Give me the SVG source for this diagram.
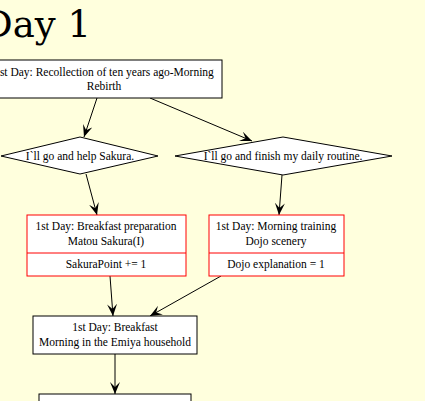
<svg xmlns="http://www.w3.org/2000/svg" width="425" height="401" viewBox="0 0 425 401">
<style>
text{font-family:"Liberation Serif","Times New Roman",serif;font-size:11.5px;fill:#000;text-anchor:middle}
.title{font-family:"DejaVu Serif",serif;font-size:37px;text-anchor:start}
.n{fill:#fff;stroke:#000;stroke-width:1}
.r{fill:#fff;stroke:#ff0000;stroke-width:1}
.e{stroke:#000;stroke-width:1;fill:none}
</style>
<defs>
<marker id="v" viewBox="0 0 12 10" refX="12" refY="5" markerWidth="12" markerHeight="10" markerUnits="userSpaceOnUse" orient="auto">
<path d="M0,0 L12,5 L0,10 L5,5 Z" fill="#000"/>
</marker>
</defs>
<rect width="425" height="401" fill="#ffffdd"/>
<text class="title" x="-17" y="37">Day 1</text>
<g id="connectors">
<path class="e" d="M97,98 L84,137" marker-end="url(#v)"/>
<path class="e" d="M150,98 L252,141" marker-end="url(#v)"/>
<path class="e" d="M86,174 L97,215" marker-end="url(#v)"/>
<path class="e" d="M282,175 L279,215" marker-end="url(#v)"/>
<path class="e" d="M110,276 L113,316" marker-end="url(#v)"/>
<path class="e" d="M221,276 L150,316" marker-end="url(#v)"/>
<path class="e" d="M115,354 L115,394" marker-end="url(#v)"/>
</g>
<g id="n1">
<rect class="n" x="-14" y="60" width="236" height="38"/>
<text x="104" y="76">1st Day: Recollection of ten years ago-Morning</text>
<text x="104" y="90">Rebirth</text>
</g>
<g id="d1">
<polygon class="n" points="1,156 80,137 158,156 80,174"/>
<text x="80" y="160">I`ll go and help Sakura.</text>
</g>
<g id="d2">
<polygon class="n" points="175,156 283,137 392,156 283,175"/>
<text x="283" y="160">I`ll go and finish my daily routine.</text>
</g>
<g id="s1">
<rect class="r" x="27" y="215" width="159" height="61"/>
<line class="r" x1="27" y1="253" x2="186" y2="253"/>
<text x="106" y="230">1st Day: Breakfast preparation</text>
<text x="106" y="245">Matou Sakura(I)</text>
<text x="106" y="268">SakuraPoint += 1</text>
</g>
<g id="s2">
<rect class="r" x="209" y="215" width="135" height="61"/>
<line class="r" x1="209" y1="253" x2="344" y2="253"/>
<text x="276" y="230">1st Day: Morning training</text>
<text x="276" y="245">Dojo scenery</text>
<text x="276" y="268">Dojo explanation = 1</text>
</g>
<g id="b1">
<rect class="n" x="33" y="316" width="164" height="38"/>
<text x="115" y="331">1st Day: Breakfast</text>
<text x="115" y="346">Morning in the Emiya household</text>
</g>
<g id="b2">
<rect class="n" x="39" y="394" width="152" height="20"/>
</g>
</svg>
